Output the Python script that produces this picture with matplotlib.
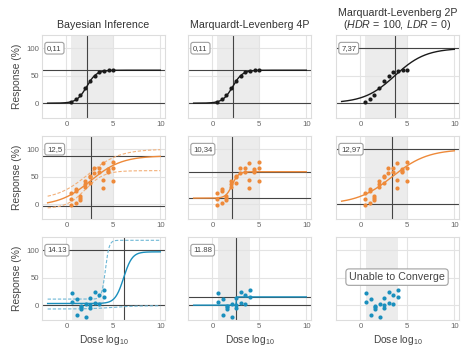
import numpy as np
import matplotlib
matplotlib.use("Agg")
import matplotlib.pyplot as plt

plt.rcParams['font.family'] = ['Liberation Sans', 'DejaVu Sans']
plt.rcParams['mathtext.fontset'] = 'custom'
plt.rcParams['mathtext.rm'] = 'Liberation Sans'
plt.rcParams['mathtext.it'] = 'Liberation Sans:italic'

# ---------------- data ----------------
col_titles = ["Bayesian Inference", "Marquardt-Levenberg 4P",
              "Marquardt-Levenberg 2P\n$(HDR\\,=\\,100,\\,LDR\\,=\\,0)$"]

dose_1 = [0.5, 1.0, 1.5, 2.0, 2.5, 3.0, 3.5, 4.0, 4.5, 5.0]
resp_1 = [3, 7, 14, 27, 41, 50, 56, 59, 60, 60]

dose_2 = [0.46, 0.46, 0.46, 1.0, 1.0, 1.0, 1.45, 1.45, 1.45, 1.97, 1.97, 1.97,
          2.46, 2.46, 2.46, 2.96, 2.96, 3.49, 3.49, 3.94, 3.94, 3.94,
          4.47, 4.47, 4.47, 5.0, 5.0, 5.0]
resp_2 = [21, 8.5, -1, 28, 24, 2, 15, 11, 8, 42, 32, 36,
          50, 52, 38, 66, 57, 65, 58, 74, 44, 30,
          64, 61, 58, 76, 66, 42]

dose_3 = [0.6, 0.6, 1.1, 1.1, 1.6, 1.6, 1.6, 2.05, 2.05, 2.5, 2.5, 2.5,
          3.0, 3.0, 3.5, 3.5, 4.0, 4.0]
resp_3 = [23, 5, 12, -18, -1, -4, -7, 2, -21, 13, 1, -5,
          24, 4, 18, 2, 28, 14]

# fitted 4-parameter logistic curves: [bottom, top, EC50, slope]
fit_params = [
    [[0, 60, 2.15, 1.9], [0, 60, 2.15, 1.9], [0, 100, 3.67, 0.61]],
    [[-3, 88, 2.57, 0.6], [11, 59, 2.1, 3.0], [0, 100, 3.39, 0.53]],
    [[3, 97, 6.1, 2.2], [0, 15, 2.54, 60], None],
]
# credible-interval bands (Bayesian column): [low, high]
band_params = [
    None,
    [[-8, 61, 2.0, 1.0], [8, 100, 2.3, 0.6]],
    [[-7, -1, 5.0, 0.8], [11, 118, 4.15, 5.0]],
]
# asymptote reference lines (bottom, top)
hlines = [
    [[0, 60], [0, 60], [0, 100]],
    [[-3, 88], [11.5, 59], [0, 100]],
    [[0, 100], [0, 15], None],
]
box_labels = [["0,11", "0,11", "7,37"],
              ["12,5", "10,34", "12,97"],
              ["14.13", "11.88", None]]

doses = [dose_1, dose_2, dose_3]
resps = [resp_1, resp_2, resp_3]
row_colors = ["#1a1a1a", "#ee8a3a", "#1a8fbd"]
band_colors = [None, "#f3b079", "#6fb8d6"]

# ---------------- figure ----------------
W, H = 474, 348
fig = plt.figure(figsize=(W / 100, H / 100), dpi=100)
col_lefts = [42, 188, 336]
col_w = 123
row_tops = [35, 136, 237]
row_h = 83

xc = np.linspace(-2, 10, 400)

def logistic(p, x):
    b, t, c, k = p
    return b + (t - b) / (1 + np.exp(-k * (x - c)))

for r in range(3):
    for c in range(3):
        ax = fig.add_axes([col_lefts[c] / W, 1 - (row_tops[r] + row_h) / H,
                           col_w / W, row_h / H])
        ax.set_xlim(-2.6, 10.5)
        ax.set_ylim(-27, 124)
        ax.set_xticks([0, 5, 10])
        ax.set_yticks([0, 50, 100])
        ax.grid(True, color="#e3e3e3", lw=0.8, zorder=0.5)
        ax.set_axisbelow(True)
        for s in ax.spines.values():
            s.set_color("#dddddd")
            s.set_linewidth(0.8)
        ax.tick_params(length=0, labelsize=5.6, colors="#666666", pad=2)
        if c != 0:
            ax.set_yticklabels([])
        else:
            ax.set_ylabel("Response (%)", fontsize=7.4, color="#444444", labelpad=3)
        if r == 2:
            ax.set_xlabel("Dose log$_{10}$", fontsize=7.3, color="#444444", labelpad=2)
        if r == 0:
            ax.set_title(col_titles[c], fontsize=7.7, color="#333333", pad=5,
                         linespacing=1.0)

        d = doses[r]
        ax.axvspan(min(d), max(d), facecolor="#ececec", edgecolor="none", zorder=0.2)

        hl = hlines[r][c]
        fp = fit_params[r][c]
        if hl is not None:
            for yv in hl:
                ax.axhline(yv, color="#444444", lw=0.8, zorder=2)
            ax.axvline(fp[2], color="#444444", lw=0.8, zorder=2)

        if c == 0 and band_params[r] is not None:
            for bp in band_params[r]:
                ax.plot(xc, logistic(bp, xc), color=band_colors[r], lw=0.8,
                        ls=(0, (3, 1.6)), zorder=3)
        if fp is not None:
            ax.plot(xc, logistic(fp, xc), color=row_colors[r], lw=1.0, zorder=3)

        ax.scatter(d, resps[r], s=9, color=row_colors[r], zorder=4, linewidths=0)

        lab = box_labels[r][c]
        if lab is not None:
            ax.text(-2.05, 100, lab, fontsize=5.6, color="#444444", va="center",
                    ha="left", zorder=5,
                    bbox=dict(boxstyle="round,pad=0.3", fc="white", ec="#a0a0a0",
                              lw=0.8))
        if r == 2 and c == 2:
            ax.text(3.9, 51, "Unable to Converge", fontsize=7.7, color="#444444",
                    ha="center", va="center", zorder=5,
                    bbox=dict(boxstyle="round,pad=0.3", fc="white", ec="#a0a0a0",
                              lw=0.8))

fig.savefig("out.png", dpi=100)
